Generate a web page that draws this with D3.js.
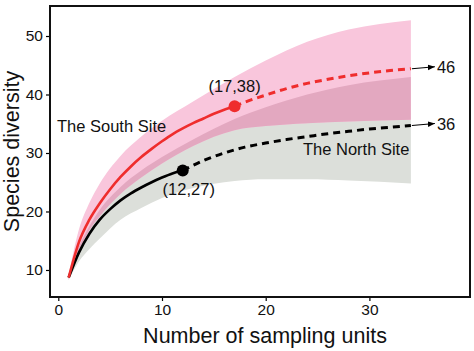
<!DOCTYPE html>
<html><head><meta charset="utf-8">
<script src="https://cdn.jsdelivr.net/npm/d3@7"></script>
<style>
html,body{margin:0;padding:0;background:#fff;}
svg{display:block;font-family:"Liberation Sans",Arial,sans-serif;}
</style></head>
<body><svg id="c" width="474" height="351"></svg>
<script>
// ---- data ----
const xTicks = [0, 10, 20, 30];
const yTicks = [10, 20, 30, 40, 50];

const southObsX = [1,2,3,4,5,6,7,8,9,10,11,12,13,14,15,16,17];
const southObs  = [8.7,14.8,18.6,21.4,23.8,25.9,27.7,29.3,30.7,32.0,33.2,34.2,35.1,35.9,36.7,37.4,38.0];
const southExtX = [17,18,20,22,24,26,28,30,32,34];
const southExt  = [38.0,38.7,39.9,41.0,41.9,42.6,43.2,43.7,44.1,44.4];

const northObsX = [1,2,3,4,5,6,7,8,9,10,11,12];
const northObs  = [8.7,13.0,16.2,18.6,20.4,21.9,23.1,24.1,25.0,25.8,26.5,27.0];
const northExtX = [12,14,16,18,20,22,24,26,28,30,32,34];
const northExt  = [27.0,28.7,30.0,31.0,31.7,32.3,32.8,33.3,33.7,34.1,34.4,34.7];

const bandX      = [1,2,3,4,6,8,10,13,17,20,24,28,34];
const southUpper = [9.2,17.0,21.5,24.8,29.5,32.8,35.5,38.8,43.0,45.8,49.0,51.1,52.7];
const southLower = [8.3,13.3,16.8,19.2,23.0,25.8,28.2,31.2,33.9,34.6,35.1,35.4,35.7];
const northUpper = [9.1,14.0,17.5,20.3,24.2,27.0,29.3,32.3,35.8,37.8,40.0,41.6,43.0];
const northLower = [8.3,11.5,13.6,15.4,18.6,20.6,22.3,24.0,25.2,25.5,25.5,25.3,24.8];

const southPoint = {x: 17, y: 38, label: "(17,38)"};
const northPoint = {x: 12, y: 27, label: "(12,27)"};
const asymptotes = [{label: "46", y: 44.4}, {label: "36", y: 34.7}];
const siteLabels = ["The South Site", "The North Site"];

// ---- layout ----
const svg = d3.select("#c");
const L = 50, R = 470, T = 6, B = 297;
const x = d3.scaleLinear().domain([-0.8, 39.7]).range([L, R]);
const y = d3.scaleLinear().domain([5.38, 55.13]).range([B, T]);

const cPink = "#f9c6dc", cOver = "#e3a8c0", cGrey = "#dcdfda", cRed = "#ef2d2d";

const band = (lo, hi) => d3.area().curve(d3.curveMonotoneX)
  .x((d,i) => x(bandX[i])).y0((d,i) => y(lo[i])).y1((d,i) => y(hi[i]))(bandX);

const defs = svg.append("defs");
defs.append("clipPath").attr("id","northClip")
  .append("path").attr("d", band(northLower, northUpper));

svg.append("path").attr("d", band(northLower, northUpper)).attr("fill", cGrey);
svg.append("path").attr("d", band(southLower, southUpper)).attr("fill", cPink);
svg.append("path").attr("d", band(southLower, southUpper)).attr("fill", cOver)
  .attr("clip-path", "url(#northClip)");

const line = (xs, ys) => d3.line().curve(d3.curveMonotoneX)
  .x((d,i) => x(xs[i])).y((d,i) => y(ys[i]))(xs);

// extrapolated dashed
svg.append("path").attr("d", line(southExtX, southExt)).attr("fill","none")
  .attr("stroke", cRed).attr("stroke-width", 3).attr("stroke-dasharray","7,5");
svg.append("path").attr("d", line(northExtX, northExt)).attr("fill","none")
  .attr("stroke", "#000").attr("stroke-width", 3).attr("stroke-dasharray","7,5");
// observed solid
svg.append("path").attr("d", line(northObsX, northObs)).attr("fill","none")
  .attr("stroke", "#000").attr("stroke-width", 2.6);
svg.append("path").attr("d", line(southObsX, southObs)).attr("fill","none")
  .attr("stroke", cRed).attr("stroke-width", 2.6);

svg.append("circle").attr("cx", x(southPoint.x)).attr("cy", y(southPoint.y)).attr("r", 6).attr("fill", cRed);
svg.append("circle").attr("cx", x(northPoint.x)).attr("cy", y(northPoint.y)).attr("r", 6).attr("fill", "#000");

// arrows
defs.append("marker").attr("id","arr").attr("viewBox","0 0 10 10").attr("refX",10).attr("refY",5)
  .attr("markerWidth",7).attr("markerHeight",7).attr("markerUnits","userSpaceOnUse").attr("orient","auto")
  .append("path").attr("d","M0,1L10,5L0,9Z").attr("fill","#000");
const xEnd = southExtX[southExtX.length-1];
asymptotes.forEach(a => {
  svg.append("line").attr("x1", x(xEnd)+1).attr("y1", y(a.y)).attr("x2", x(xEnd)+24).attr("y2", y(a.y)-2)
    .attr("stroke","#000").attr("stroke-width",1.2).attr("marker-end","url(#arr)");
  svg.append("text").attr("x", x(xEnd)+26).attr("y", y(a.y)+4).attr("font-size", 16.5).attr("fill","#111").text(a.label);
});

// annotations
svg.append("text").attr("x", x(southPoint.x)).attr("y", y(southPoint.y)-14).attr("text-anchor","middle")
  .attr("font-size",16.5).attr("fill","#111").text(southPoint.label);
svg.append("text").attr("x", x(northPoint.x)+6).attr("y", y(northPoint.y)+24).attr("text-anchor","middle")
  .attr("font-size",16.5).attr("fill","#111").text(northPoint.label);
svg.append("text").attr("x", 57).attr("y", 132).attr("font-size",16.5).attr("fill","#111").text(siteLabels[0]);
svg.append("text").attr("x", 303).attr("y", 155).attr("font-size",16.5).attr("fill","#111").text(siteLabels[1]);

// axes
const ax = svg.append("g").attr("transform", `translate(0,${B})`)
  .call(d3.axisBottom(x).tickValues(xTicks).tickSize(4).tickSizeOuter(0).tickPadding(3));
const ay = svg.append("g").attr("transform", `translate(${L},0)`)
  .call(d3.axisLeft(y).tickValues(yTicks).tickSize(4).tickSizeOuter(0).tickPadding(3));
[ax, ay].forEach(g => {
  g.select(".domain").remove();
  g.selectAll(".tick line").attr("stroke","#000").attr("stroke-width",1.2);
  g.selectAll(".tick text").attr("font-size",15.5).attr("fill","#111")
    .attr("font-family",'"Liberation Sans",Arial,sans-serif');
});

svg.append("rect").attr("x", L).attr("y", T).attr("width", R-L).attr("height", B-T)
  .attr("fill","none").attr("stroke","#111").attr("stroke-width",2);

svg.append("text").attr("x", (L+R)/2 + 5).attr("y", 343).attr("text-anchor","middle")
  .attr("font-size",21.5).attr("fill","#111").text("Number of sampling units");
svg.append("text").attr("transform", `translate(19,${(T+B)/2}) rotate(-90)`).attr("text-anchor","middle")
  .attr("font-size",21.5).attr("fill","#111").text("Species diversity");
</script></body></html>
